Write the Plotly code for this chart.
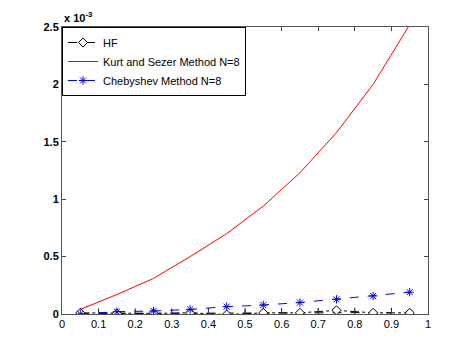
import plotly.graph_objects as go

x = [0.05, 0.15, 0.25, 0.35, 0.45, 0.55, 0.65, 0.75, 0.85, 0.95]
x_mid = [0.1, 0.2, 0.3, 0.4, 0.5, 0.6, 0.7, 0.8, 0.9]
# values in units of 1e-3
hf = [0.01, 0.005, 0.005, 0.01, -0.005, 0.01, 0.01, 0.032, 0.01, 0.01]
hf_mid = [0.005, 0.005, 0.005, 0.008, 0.008, 0.008, 0.01, 0.012, 0.01]
kurt = [0.04, 0.17, 0.31, 0.50, 0.70, 0.94, 1.23, 1.58, 2.00, 2.52]
cheb = [0.0, 0.02, 0.026, 0.04, 0.064, 0.078, 0.10, 0.128, 0.157, 0.19]
xticks = [0, 0.1, 0.2, 0.3, 0.4, 0.5, 0.6, 0.7, 0.8, 0.9, 1]
yticks = [0, 0.5, 1, 1.5, 2, 2.5]
ytick_labels = ["0", "0.5", "1", "1.5", "2", "2.5"]

fig = go.Figure()
fig.add_trace(go.Scatter(x=x_mid, y=hf_mid, mode="lines+markers", showlegend=False,
                         line=dict(color="black", width=1, dash="dash"),
                         marker=dict(symbol="line-ns-open", size=7, color="black", line=dict(width=1, color="black"))))
fig.add_trace(go.Scatter(x=x, y=hf, mode="lines+markers", name="HF",
                         line=dict(color="black", width=1, dash="dashdot"),
                         marker=dict(symbol="diamond", size=7, color="white", line=dict(width=1, color="black"))))
fig.add_trace(go.Scatter(x=x, y=kurt, mode="lines", name="Kurt and Sezer Method N=8",
                         line=dict(color="red", width=1)))
fig.add_trace(go.Scatter(x=x, y=cheb, mode="lines+markers", name="Chebyshev Method N=8",
                         line=dict(color="blue", width=1, dash="dash"),
                         marker=dict(symbol="asterisk-open", size=7, color="blue", line=dict(width=1, color="blue"))))

fig.update_layout(
    width=474, height=355,
    margin=dict(l=54, r=54, t=19, b=49),
    paper_bgcolor="white", plot_bgcolor="white",
    font=dict(family="Liberation Sans, Arial", size=11, color="black"),
    legend=dict(x=0, y=1, xanchor="left", yanchor="top", bgcolor="white",
                bordercolor="black", borderwidth=1, font=dict(size=11),
                tracegroupgap=0, itemwidth=30),
    annotations=[dict(text="<b>x 10<sup>-3</sup></b>", x=0, y=1, xref="paper", yref="paper",
                      xanchor="left", yanchor="bottom", showarrow=False, font=dict(size=11), yshift=1)],
)
fig.update_xaxes(range=[0, 1], tickvals=xticks, ticks="inside", ticklen=4, mirror="ticks",
                 showline=True, linecolor="#555", linewidth=1, showgrid=False, zeroline=False,
                 tickfont=dict(size=11, family="Liberation Sans, Arial", color="black"),
                 tickprefix="<b>", ticksuffix="</b>")
fig.update_yaxes(range=[0, 2.5], tickvals=yticks, ticktext=["<b>%s</b>" % t for t in ytick_labels],
                 ticks="inside", ticklen=4, mirror="ticks",
                 showline=True, linecolor="#555", linewidth=1, showgrid=False, zeroline=False,
                 tickfont=dict(size=11, family="Liberation Sans, Arial", color="black"))
fig.write_html("out.html")
